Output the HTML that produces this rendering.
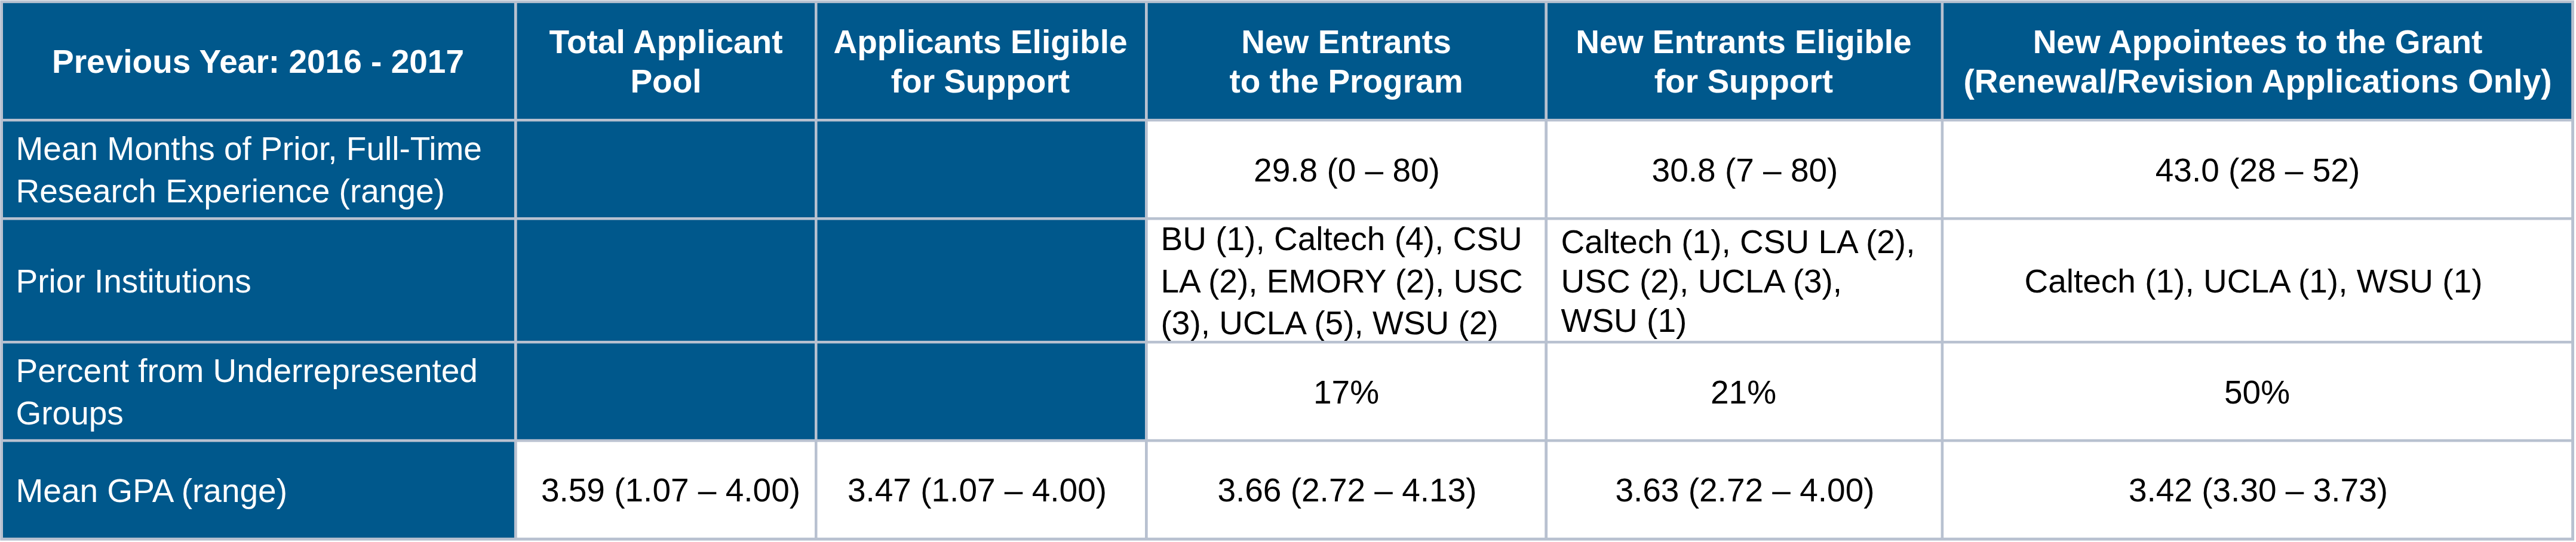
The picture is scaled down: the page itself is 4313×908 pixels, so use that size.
<!DOCTYPE html>
<html>
<head>
<meta charset="utf-8">
<title>Previous Year: 2016 - 2017</title>
<style>
html,body{margin:0;padding:0;background:#fff;}
body{width:4313px;height:908px;position:relative;overflow:hidden;font-family:"Liberation Sans",Arial,sans-serif;}
#g{position:absolute;left:0;top:0;display:block;}
.c{position:absolute;display:flex;align-items:center;box-sizing:border-box;overflow:hidden;color:#fff;}
.c span{position:relative;top:1px;display:block;white-space:nowrap;}
.k{color:#000;}
.h{font-weight:bold;font-size:55px;line-height:66px;justify-content:center;text-align:center;}
.t{font-size:55px;line-height:71px;}
.l{justify-content:flex-start;text-align:left;padding-left:21.5px;}
.m{justify-content:center;text-align:center;}
</style>
</head>
<body>
<svg id="g" width="4313" height="908" viewBox="0 0 4313 908">
<rect x="0.3" y="0.6" width="4309.7" height="905.0" fill="#b8c1d0"/>
<rect x="5.0" y="5.2" width="855.9" height="193.8" fill="#00588c"/>
<rect x="865.7" y="5.2" width="498.3" height="193.8" fill="#00588c"/>
<rect x="1368.5" y="5.2" width="548.5" height="193.8" fill="#00588c"/>
<rect x="1921.7" y="5.2" width="664.6" height="193.8" fill="#00588c"/>
<rect x="2591.1" y="5.2" width="658.5" height="193.8" fill="#00588c"/>
<rect x="3254.2" y="5.2" width="1050.9" height="193.8" fill="#00588c"/>
<rect x="5.0" y="203.5" width="855.9" height="160.5" fill="#00588c"/>
<rect x="865.7" y="203.5" width="498.3" height="160.5" fill="#00588c"/>
<rect x="1368.5" y="203.5" width="548.5" height="160.5" fill="#00588c"/>
<rect x="1921.7" y="203.5" width="664.6" height="160.5" fill="#ffffff"/>
<rect x="2591.1" y="203.5" width="658.5" height="160.5" fill="#ffffff"/>
<rect x="3254.2" y="203.5" width="1050.9" height="160.5" fill="#ffffff"/>
<rect x="5.0" y="368.5" width="855.9" height="202.4" fill="#00588c"/>
<rect x="865.7" y="368.5" width="498.3" height="202.4" fill="#00588c"/>
<rect x="1368.5" y="368.5" width="548.5" height="202.4" fill="#00588c"/>
<rect x="1921.7" y="368.5" width="664.6" height="202.4" fill="#ffffff"/>
<rect x="2591.1" y="368.5" width="658.5" height="202.4" fill="#ffffff"/>
<rect x="3254.2" y="368.5" width="1050.9" height="202.4" fill="#ffffff"/>
<rect x="5.0" y="575.4" width="855.9" height="160.4" fill="#00588c"/>
<rect x="865.7" y="575.4" width="498.3" height="160.4" fill="#00588c"/>
<rect x="1368.5" y="575.4" width="548.5" height="160.4" fill="#00588c"/>
<rect x="1921.7" y="575.4" width="664.6" height="160.4" fill="#ffffff"/>
<rect x="2591.1" y="575.4" width="658.5" height="160.4" fill="#ffffff"/>
<rect x="3254.2" y="575.4" width="1050.9" height="160.4" fill="#ffffff"/>
<rect x="5.0" y="740.4" width="855.9" height="160.3" fill="#00588c"/>
<rect x="865.7" y="740.4" width="498.3" height="160.3" fill="#ffffff"/>
<rect x="1368.5" y="740.4" width="548.5" height="160.3" fill="#ffffff"/>
<rect x="1921.7" y="740.4" width="664.6" height="160.3" fill="#ffffff"/>
<rect x="2591.1" y="740.4" width="658.5" height="160.3" fill="#ffffff"/>
<rect x="3254.2" y="740.4" width="1050.9" height="160.3" fill="#ffffff"/>
</svg>
<div class="c h" style="left:5px;top:5px;width:856px;height:194px;"><span style="left:-1px;top:1px;">Previous Year: 2016 - 2017</span></div>
<div class="c h" style="left:866px;top:5px;width:498px;height:194px;"><span>Total Applicant<br>Pool</span></div>
<div class="c h" style="left:1369px;top:5px;width:548px;height:194px;"><span style="left:-1.5px;top:1px;">Applicants Eligible<br>for Support</span></div>
<div class="c h" style="left:1922px;top:5px;width:664px;height:194px;"><span>New Entrants<br>to the Program</span></div>
<div class="c h" style="left:2591px;top:5px;width:659px;height:194px;"><span style="left:-1px;top:1px;">New Entrants Eligible<br>for Support</span></div>
<div class="c h" style="left:3255px;top:5px;width:1050px;height:194px;"><span>New Appointees to the Grant<br>(Renewal/Revision Applications Only)</span></div>
<div class="c t l" style="left:5px;top:204px;width:856px;height:160px;"><span>Mean Months of Prior, Full-Time<br>Research Experience (range)</span></div>
<div class="c t m k" style="left:1922px;top:204px;width:664px;height:160px;"><span style="left:1px;top:1px;">29.8 (0 – 80)</span></div>
<div class="c t m k" style="left:2591px;top:204px;width:659px;height:160px;"><span style="left:1px;top:1px;">30.8 (7 – 80)</span></div>
<div class="c t m k" style="left:3255px;top:204px;width:1050px;height:160px;"><span>43.0 (28 – 52)</span></div>
<div class="c t l" style="left:5px;top:369px;width:856px;height:202px;"><span>Prior Institutions</span></div>
<div class="c t l k" style="left:1922px;top:369px;width:664px;height:202px;"><span style="line-height:70.5px;">BU (1), Caltech (4), CSU<br>LA (2), EMORY (2), USC<br>(3), UCLA (5), WSU (2)</span></div>
<div class="c t l k" style="left:2591px;top:369px;width:659px;height:202px;"><span style="left:1px;top:1px;line-height:66px;">Caltech (1), CSU LA (2),<br>USC (2), UCLA (3),<br>WSU (1)</span></div>
<div class="c t m k" style="left:3255px;top:369px;width:1050px;height:202px;"><span style="left:-7px;top:1px;">Caltech (1), UCLA (1), WSU (1)</span></div>
<div class="c t l" style="left:5px;top:576px;width:856px;height:160px;"><span>Percent from Underrepresented<br>Groups</span></div>
<div class="c t m k" style="left:1922px;top:576px;width:664px;height:160px;"><span>17%</span></div>
<div class="c t m k" style="left:2591px;top:576px;width:659px;height:160px;"><span style="left:-1.5px;top:1px;">21%</span></div>
<div class="c t m k" style="left:3255px;top:576px;width:1050px;height:160px;"><span style="left:-1px;top:1px;">50%</span></div>
<div class="c t l" style="left:5px;top:741px;width:856px;height:159px;"><span style="left:0px;top:2px;">Mean GPA (range)</span></div>
<div class="c t m k" style="left:866px;top:741px;width:498px;height:159px;"><span style="left:8px;top:1px;">3.59 (1.07 – 4.00)</span></div>
<div class="c t m k" style="left:1369px;top:741px;width:548px;height:159px;"><span style="left:-7px;top:1px;">3.47 (1.07 – 4.00)</span></div>
<div class="c t m k" style="left:1922px;top:741px;width:664px;height:159px;"><span style="left:1.5px;top:1px;">3.66 (2.72 – 4.13)</span></div>
<div class="c t m k" style="left:2591px;top:741px;width:659px;height:159px;"><span style="left:1px;top:1px;">3.63 (2.72 – 4.00)</span></div>
<div class="c t m k" style="left:3255px;top:741px;width:1050px;height:159px;"><span style="left:1px;top:1px;">3.42 (3.30 – 3.73)</span></div>
</body>
</html>
